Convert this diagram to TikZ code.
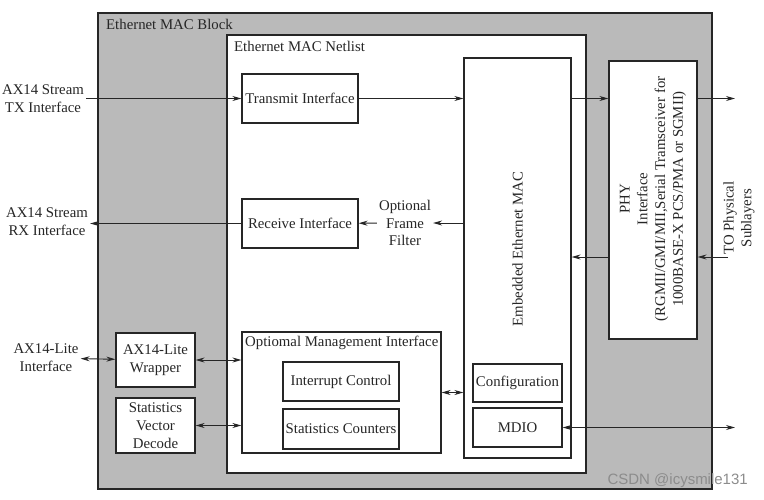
\documentclass[tikz,border=0pt]{standalone}
\usepackage{fontspec}
\setmainfont{Liberation Serif}
\newfontfamily\markfont{Liberation Sans}
\usepackage{xcolor}
\usepackage{tikz}
\usetikzlibrary{arrows.meta,positioning,calc}
\definecolor{macgray}{HTML}{BABABA}
\definecolor{macline}{HTML}{262626}
\definecolor{macmark}{HTML}{8C8C8C}
\tikzset{
  txt/.style={font=\fontsize{14.8}{17.8}\selectfont,text=macline},
  box/.style={txt,draw=macline,line width=1.2pt,fill=white,align=center,inner sep=1pt},
  lbl/.style={txt,align=center,inner sep=2pt},
  ttl/.style={txt,anchor=west,inner sep=0pt},
  ar/.style={-{Stealth[length=9pt,width=5pt]},draw=macline,line width=0.9pt},
  dar/.style={ar,{Stealth[length=9pt,width=5pt]}-{Stealth[length=9pt,width=5pt]}},
}
\begin{document}
\begin{tikzpicture}[x=1pt,y=-1pt]
  \useasboundingbox (0,0) rectangle (764,499);
  \node[box,fill=macgray,minimum width=614pt,minimum height=476pt] (block) at (405,251) {};
  \node[ttl] (blockttl) at (106,24) {Ethernet MAC Block};
  \node[box,minimum width=359pt,minimum height=438pt] (netlist) at (406.5,254) {};
  \node[ttl] (netttl) at (234,46) {Ethernet MAC Netlist};
  \node[box,minimum width=116pt,minimum height=49pt] (txif) at (300,98.5) {Transmit Interface};
  \node[box,minimum width=116pt,minimum height=49pt] (rxif) at (300,223.5) {Receive Interface};
  \node[box,minimum width=107pt,minimum height=400pt] (emac) at (517.5,258) {};
  \node[lbl,rotate=90] (emacttl) at (517.5,249) {Embedded Ethernet MAC};
  \node[box,minimum width=88pt,minimum height=278pt] (phy) at (653,200) {};
  \node[lbl,rotate=90] (phyttl) at (653,199) {PHY\\Interface\\(RGMII/GMI/MII,Serial Tramsceiver for\\1000BASE-X PCS/PMA or SGMII)};
  \node[box,minimum width=79pt,minimum height=54pt] (wrap) at (155.5,360) {AX14-Lite\\Wrapper};
  \node[box,minimum width=79pt,minimum height=55pt] (svd) at (155.5,425.5) {Statistics\\Vector\\Decode};
  \node[box,minimum width=199pt,minimum height=121pt] (omi) at (341.5,392.5) {};
  \node[ttl] (omittl) at (245,343) {Optiomal Management Interface};
  \node[box,minimum width=116pt,minimum height=39pt] (intr) at (341,381.5) {Interrupt Control};
  \node[box,minimum width=116pt,minimum height=40pt] (stc) at (341,429) {Statistics Counters};
  \node[box,minimum width=89pt,minimum height=38pt] (cfg) at (517.5,383) {Configuration};
  \node[box,minimum width=89pt,minimum height=39pt] (mdio) at (517.5,427.5) {MDIO};

  \node[lbl] (txlbl) at (43,98.5) {AX14 Stream\\TX Interface};
  \node[lbl] (rxlbl) at (47,222) {AX14 Stream\\RX Interface};
  \node[lbl] (litelbl) at (46,358) {AX14-Lite\\Interface};
  \node[lbl] (filt) at (405,223) {Optional\\Frame\\Filter};
  \node[lbl,rotate=90] (tophy) at (739,218) {TO Physical\\Sublayers};
  \coordinate (txout) at (735,98.5);
  \coordinate (rxin) at (728,257);
  \coordinate (mdout) at (735,430);

  \draw[ar] (txlbl) -- (txif);
  \draw[ar] (txif) -- (txif -| emac.west);
  \draw[ar] (emac.east |- txif) -- (phy.west |- txif);
  \draw[ar] (phy.east |- txif) -- (txout);
  \draw[ar] (rxif) -- (rxif -| rxlbl.east);
  \draw[ar] (emac.west |- filt) -- (filt);
  \draw[ar] (filt) -- (rxif);
  \draw[ar] (rxin) -- (phy.east |- rxin);
  \draw[ar] (phy.west |- rxin) -- (emac.east |- rxin);
  \draw[dar] (litelbl) -- (wrap);
  \draw[dar] (wrap) -- (wrap -| omi.west);
  \draw[dar] (svd) -- (svd -| omi.west);
  \draw[dar] (omi) -- (omi -| emac.west);
  \draw[dar] (mdio) -- (mdio -| mdout);

  \node[font=\markfont\fontsize{15}{15}\selectfont,text=macmark,anchor=east,inner sep=0pt] (mark) at (748,481) {CSDN @icysmile131};
\end{tikzpicture}
\end{document}
